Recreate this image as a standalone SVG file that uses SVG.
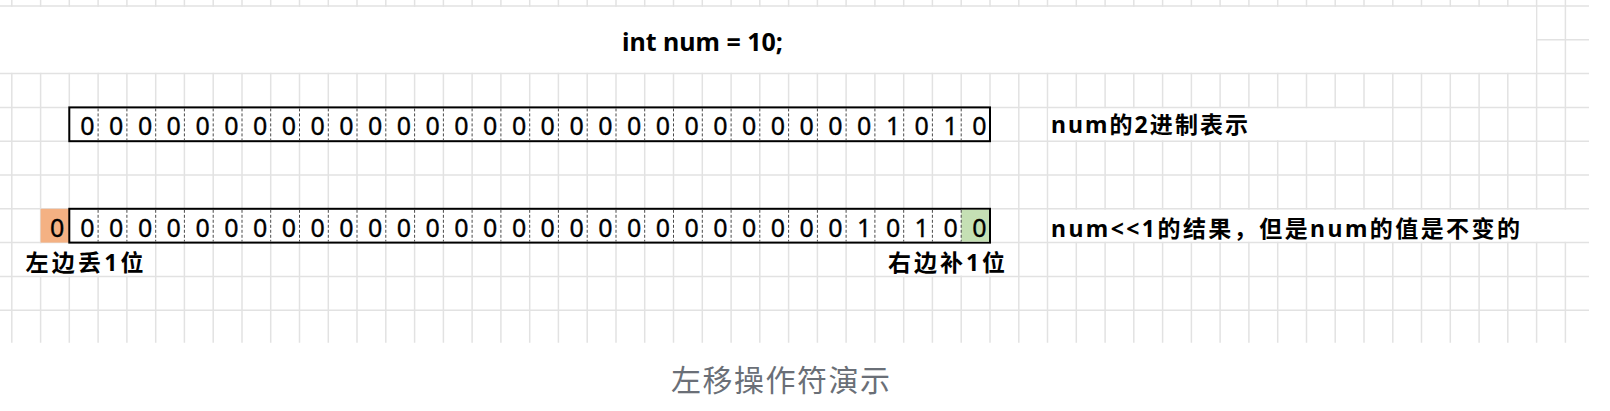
<svg xmlns="http://www.w3.org/2000/svg" width="1610" height="411" viewBox="0 0 1610 411">
<style>
.grid{stroke:#e2e2e2;stroke-width:1.5;fill:none}
.mask{fill:#ffffff}
.box{fill:#ffffff;stroke:#000000;stroke-width:2}
.sep{stroke:#4a4a4a;stroke-width:1;stroke-dasharray:3 2;fill:none}
.bit{font-family:"Noto Sans","Noto Sans CJK SC",sans-serif;font-size:25px;fill:#000000;stroke:#000000;stroke-width:0.35;text-anchor:end}
.lbl{font-family:"Noto Sans","Noto Sans CJK SC",sans-serif;font-size:23px;font-weight:bold;fill:#000000}
.cap{font-family:"Noto Sans CJK SC","Noto Sans",sans-serif;font-size:30px;fill:#6a6f77}
</style>
<rect width="1610" height="411" fill="#ffffff"/>
<g id="grid">
<path class="grid" d="M11.8 0V342.7M40.6 0V342.7M69.3 0V342.7M98.1 0V342.7M126.9 0V342.7M155.7 0V342.7M184.4 0V342.7M213.2 0V342.7M242 0V342.7M270.7 0V342.7M299.5 0V342.7M328.3 0V342.7M357 0V342.7M385.8 0V342.7M414.6 0V342.7M443.4 0V342.7M472.1 0V342.7M500.9 0V342.7M529.7 0V342.7M558.4 0V342.7M587.2 0V342.7M616 0V342.7M644.7 0V342.7M673.5 0V342.7M702.3 0V342.7M731.1 0V342.7M759.8 0V342.7M788.6 0V342.7M817.4 0V342.7M846.1 0V342.7M874.9 0V342.7M903.7 0V342.7M932.4 0V342.7M961.2 0V342.7M990 0V342.7M1018.8 0V342.7M1047.5 0V342.7M1076.3 0V342.7M1105.1 0V342.7M1133.8 0V342.7M1162.6 0V342.7M1191.4 0V342.7M1220.1 0V342.7M1248.9 0V342.7M1277.7 0V342.7M1306.5 0V342.7M1335.2 0V342.7M1364 0V342.7M1392.8 0V342.7M1421.5 0V342.7M1450.3 0V342.7M1479.1 0V342.7M1507.8 0V342.7M1536.6 0V342.7M1565.4 0V342.7"/>
<rect class="mask" x="0" y="6.8" width="1535.8" height="66"/>
<rect class="mask" x="1048.3" y="108.2" width="343.7" height="32.2"/>
<rect class="mask" x="1048.3" y="209.6" width="560" height="32.2"/>
<rect class="mask" x="13" y="243.4" width="141.9" height="32.2"/>
<rect class="mask" x="875.7" y="243.4" width="142.3" height="32.2"/>
<path class="grid" d="M0 6H1589M1536.6 39.8H1589M0 73.6H1589M0 107.4H1589M0 141.2H1589M0 175H1589M0 208.8H1589M0 242.6H1589M0 276.4H1589M0 310.2H1589"/>
</g>
<g id="title">
<text class="lbl" x="622" y="50.5" style="font-size:25px">int num = 10;</text>
</g>
<g id="row1">
<rect class="box" x="69.3" y="107.4" width="920.7" height="33.8"/>
<path class="sep" d="M98.1 108.4V140.2M126.9 108.4V140.2M155.7 108.4V140.2M184.4 108.4V140.2M213.2 108.4V140.2M242 108.4V140.2M270.7 108.4V140.2M299.5 108.4V140.2M328.3 108.4V140.2M357 108.4V140.2M385.8 108.4V140.2M414.6 108.4V140.2M443.4 108.4V140.2M472.1 108.4V140.2M500.9 108.4V140.2M529.7 108.4V140.2M558.4 108.4V140.2M587.2 108.4V140.2M616 108.4V140.2M644.7 108.4V140.2M673.5 108.4V140.2M702.3 108.4V140.2M731.1 108.4V140.2M759.8 108.4V140.2M788.6 108.4V140.2M817.4 108.4V140.2M846.1 108.4V140.2M874.9 108.4V140.2M903.7 108.4V140.2M932.4 108.4V140.2M961.2 108.4V140.2"/>
<text class="bit" y="134.5" x="94.6 123.4 152.2 180.9 209.7 238.5 267.2 296 324.8 353.5 382.3 411.1 439.9 468.6 497.4 526.2 554.9 583.7 612.5 641.2 670 698.8 727.5 756.3 785.1 813.9 842.6 871.4 900.2 928.9 957.7 986.5">00000000000000000000000000001010</text>
<text class="lbl" x="1051" y="133.3" textLength="197" lengthAdjust="spacing">num的2进制表示</text>
</g>
<g id="row2">
<rect x="40.6" y="208.8" width="28.7" height="33.8" fill="#f4b183"/>
<rect class="box" x="69.3" y="208.8" width="920.7" height="33.8"/>
<rect x="961.2" y="209.8" width="27.8" height="31.8" fill="#c5e0b4"/>
<path class="sep" d="M98.1 209.8V241.6M126.9 209.8V241.6M155.7 209.8V241.6M184.4 209.8V241.6M213.2 209.8V241.6M242 209.8V241.6M270.7 209.8V241.6M299.5 209.8V241.6M328.3 209.8V241.6M357 209.8V241.6M385.8 209.8V241.6M414.6 209.8V241.6M443.4 209.8V241.6M472.1 209.8V241.6M500.9 209.8V241.6M529.7 209.8V241.6M558.4 209.8V241.6M587.2 209.8V241.6M616 209.8V241.6M644.7 209.8V241.6M673.5 209.8V241.6M702.3 209.8V241.6M731.1 209.8V241.6M759.8 209.8V241.6M788.6 209.8V241.6M817.4 209.8V241.6M846.1 209.8V241.6M874.9 209.8V241.6M903.7 209.8V241.6M932.4 209.8V241.6M961.2 209.8V241.6"/>
<text class="bit" y="236.8" x="64.3 94.6 123.4 152.2 180.9 209.7 238.5 267.2 296 324.8 353.5 382.3 411.1 439.9 468.6 497.4 526.2 554.9 583.7 612.5 641.2 670 698.8 727.5 756.3 785.1 813.9 842.6 871.4 900.2 928.9 957.7 986.5">000000000000000000000000000010100</text>
<text class="lbl" x="1051" y="236.7" textLength="469" lengthAdjust="spacing">num&lt;&lt;1的结果，但是num的值是不变的</text>
</g>
<g id="notes">
<text class="lbl" x="25.5" y="270.5" textLength="118" lengthAdjust="spacing">左边丢1位</text>
<text class="lbl" x="888" y="270.5" textLength="117" lengthAdjust="spacing">右边补1位</text>
</g>
<g id="caption">
<text class="cap" x="671" y="391" textLength="219" lengthAdjust="spacing">左移操作符演示</text>
</g>
<g id="connectors"/>
</svg>
